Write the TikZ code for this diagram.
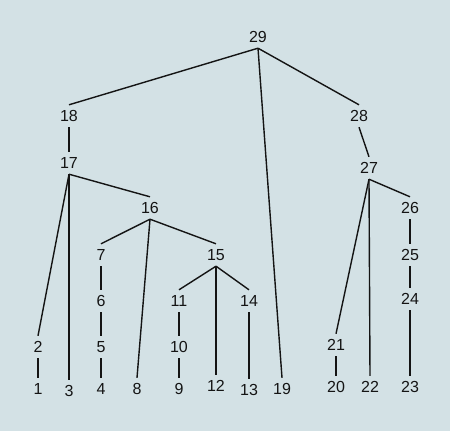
\documentclass[tikz,border=0pt]{standalone}
\usepackage{fontspec}
\setmainfont{Liberation Sans}
\definecolor{bgc}{RGB}{211,225,229}
\definecolor{inkc}{RGB}{20,20,20}
\begin{document}
\begin{tikzpicture}[x=1pt,y=-1pt,
  lbl/.style={inner sep=0pt,minimum height=22pt,text height=11.8pt,text depth=0pt,font=\fontsize{16}{16}\selectfont,text=inkc},
  edge/.style={draw=inkc,line width=1.4pt}]
\fill[bgc] (0,0) rectangle (450,431);
\useasboundingbox (0,0) rectangle (450,431);
\node[lbl] (n29) at (258,37) {29};
\node[lbl] (n18) at (69,116) {18};
\node[lbl] (n17) at (69,163) {17};
\node[lbl] (n28) at (359,116) {28};
\node[lbl] (n27) at (369,168) {27};
\node[lbl] (n16) at (150,208) {16};
\node[lbl] (n26) at (410,208) {26};
\node[lbl] (n19) at (282,389) {19};
\node[lbl] (n7) at (101,255) {7};
\node[lbl] (n15) at (216,255) {15};
\node[lbl] (n8) at (137,389) {8};
\node[lbl] (n6) at (101,301) {6};
\node[lbl] (n5) at (101,347) {5};
\node[lbl] (n4) at (101,389) {4};
\node[lbl] (n11) at (179,301) {11};
\node[lbl] (n14) at (249,301) {14};
\node[lbl] (n12) at (216,386) {12};
\node[lbl] (n10) at (179,347) {10};
\node[lbl] (n9) at (179,389) {9};
\node[lbl] (n13) at (249,390) {13};
\node[lbl] (n2) at (38,347) {2};
\node[lbl] (n1) at (38,389) {1};
\node[lbl] (n3) at (69,391) {3};
\node[lbl] (n21) at (336,345) {21};
\node[lbl] (n20) at (336,387) {20};
\node[lbl] (n22) at (370,387) {22};
\node[lbl] (n25) at (410,255) {25};
\node[lbl] (n24) at (410,299) {24};
\node[lbl] (n23) at (410,387) {23};
\foreach \p/\c in {n29/n18,n29/n28,n29/n19,n18/n17,n17/n2,n17/n3,n17/n16,
  n16/n7,n16/n8,n16/n15,n7/n6,n6/n5,n5/n4,n15/n11,n15/n12,n15/n14,n11/n10,n10/n9,
  n14/n13,n2/n1,n28/n27,n27/n21,n27/n22,n27/n26,n21/n20,n26/n25,n25/n24,n24/n23}
  \draw[edge] (\p.south) -- (\c.north);
\end{tikzpicture}
\end{document}
